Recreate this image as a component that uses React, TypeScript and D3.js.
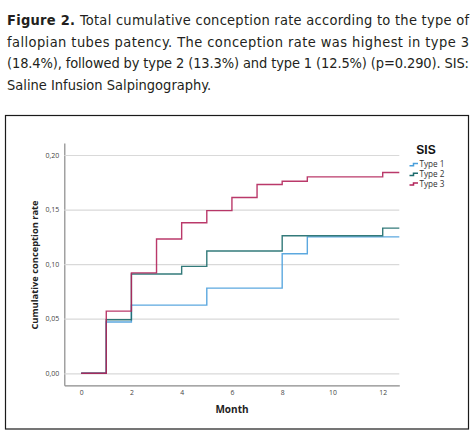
import React, { useEffect, useRef } from 'react'
import * as d3 from 'd3'

// Kaplan-Meier style cumulative conception rate, by fallopian tube type
const seriesNames = ['Type 1', 'Type 2', 'Type 3']
const seriesColors = ['#4a9fdb', '#1d6b6c', '#b3245a']

const type1Months = [0, 1, 2, 5, 8, 9, 12.66]
const type1Rates = [0, 0.047, 0.0625, 0.078, 0.1095, 0.125, 0.125]

const type2Months = [0, 1, 2, 4, 5, 8, 12, 12.66]
const type2Rates = [0, 0.049, 0.091, 0.098, 0.112, 0.126, 0.133, 0.133]

const type3Months = [0, 1, 2, 3, 4, 5, 6, 7, 8, 9, 12, 12.66]
const type3Rates = [0, 0.057, 0.092, 0.123, 0.138, 0.149, 0.161, 0.173, 0.176, 0.18, 0.184, 0.184]

const xTicks = [0, 2, 4, 6, 8, 10, 12]
const yTicks = [0, 0.05, 0.1, 0.15, 0.2]

const captionLines = [
    'Total cumulative conception rate according to the type of',
    'fallopian tubes patency. The conception rate was highest in type 3',
    '(18.4%), followed by type 2 (13.3%) and type 1 (12.5%) (p=0.290). SIS:',
    'Saline Infusion Salpingography.',
]

const W = 476
const H = 442

export default function App() {
    const svgRef = useRef<SVGSVGElement>(null)

    useEffect(() => {
        if (!svgRef.current) return
        const svg = d3.select(svgRef.current)
        svg.selectAll('*').remove()

        const capFont = '"Liberation Sans Narrow", "Arial Narrow", "DejaVu Sans Condensed", sans-serif'
        const capBase = [25, 46.5, 68, 89.5]

        // caption, first three lines justified
        captionLines.forEach((line, i) => {
            const t = svg.append('text')
                .attr('x', 7)
                .attr('y', capBase[i])
                .attr('font-family', capFont)
                .attr('font-size', 14.5)
                .attr('fill', '#231f20')
            if (i === 0) {
                t.append('tspan').attr('font-weight', 'bold').text('Figure 2. ')
            }
            t.append('tspan').text(line)
            if (i < 3) t.attr('textLength', 462).attr('lengthAdjust', 'spacing')
        })

        // frame
        svg.append('rect')
            .attr('x', 5.5).attr('y', 115.5)
            .attr('width', 463).attr('height', 313.5)
            .attr('fill', 'none').attr('stroke', '#1a1a1a').attr('stroke-width', 1.2)

        const x = d3.scaleLinear().domain([-0.67, 12.66]).range([64.3, 399.3])
        const y = d3.scaleLinear().domain([-0.011, 0.211]).range([385.3, 143])

        const font = '"Open Sans", "Liberation Sans", sans-serif'

        // gridlines + y axis
        const yAxis = svg.append('g')
            .attr('transform', `translate(${x(-0.67)},0)`)
            .call(d3.axisLeft(y).tickValues(yTicks).tickSizeInner(-(x(12.66) - x(-0.67))).tickSizeOuter(0).tickPadding(5)
                .tickFormat(d => d3.format('.2f')(d as number).replace('.', ',')))
        yAxis.select('.domain').attr('stroke', '#8a8a8a').attr('stroke-width', 1.2)
        yAxis.selectAll('.tick line').attr('stroke', '#d9d9d9').attr('stroke-width', 1.2)
        yAxis.selectAll('.tick text').attr('font-family', font).attr('font-size', 7).attr('fill', '#444')

        // x axis
        const xAxis = svg.append('g')
            .attr('transform', `translate(0,${y(-0.011)})`)
            .call(d3.axisBottom(x).tickValues(xTicks).tickSize(0).tickPadding(5))
        xAxis.select('.domain').attr('stroke', '#8a8a8a').attr('stroke-width', 1.2)
        xAxis.selectAll('.tick text').attr('font-family', font).attr('font-size', 6.8).attr('fill', '#444')

        // axis titles
        svg.append('text')
            .attr('transform', `translate(38,265) rotate(-90)`)
            .attr('text-anchor', 'middle')
            .attr('font-family', font).attr('font-weight', 'bold').attr('font-size', 9.3)
            .attr('fill', '#222')
            .text('Cumulative conception rate')
        svg.append('text')
            .attr('x', 232).attr('y', 412.5)
            .attr('text-anchor', 'middle')
            .attr('font-family', font).attr('font-weight', 'bold').attr('font-size', 10)
            .attr('fill', '#222')
            .text('Month')

        // step lines
        const line = d3.line<[number, number]>()
            .x(d => x(d[0]))
            .y(d => y(d[1]))
            .curve(d3.curveStepAfter)

        const series = [
            d3.zip(type1Months, type1Rates),
            d3.zip(type2Months, type2Rates),
            d3.zip(type3Months, type3Rates),
        ] as [number, number][][]

        series.forEach((pts, i) => {
            svg.append('path')
                .attr('d', line(pts))
                .attr('fill', 'none')
                .attr('stroke', seriesColors[i])
                .attr('stroke-width', 1.4)
                .attr('stroke-opacity', 0.9)
        })

        // legend
        svg.append('text')
            .attr('x', 426).attr('y', 153.5)
            .attr('text-anchor', 'middle')
            .attr('font-family', '"Liberation Sans", Arial, sans-serif')
            .attr('font-weight', 'bold').attr('font-size', 12)
            .attr('fill', '#111')
            .text('SIS')
        const lg = svg.append('g').attr('transform', 'translate(409.5,164.5)')
        seriesNames.forEach((name, i) => {
            const row = lg.append('g').attr('transform', `translate(0,${i * 9.7})`)
            row.append('path')
                .attr('d', 'M0,1.2H4V-1H8.5')
                .attr('fill', 'none')
                .attr('stroke', seriesColors[i])
                .attr('stroke-width', 1.5)
            row.append('text')
                .attr('x', 10).attr('y', 2.9)
                .attr('font-family', font).attr('font-size', 8.2)
                .attr('fill', '#333')
                .text(name)
        })
    }, [])

    return (
        <svg ref={svgRef} width={W} height={H} viewBox={`0 0 ${W} ${H}`}
            style={{ position: 'absolute', left: 0, top: 0, background: '#fff' }} />
    )
}
